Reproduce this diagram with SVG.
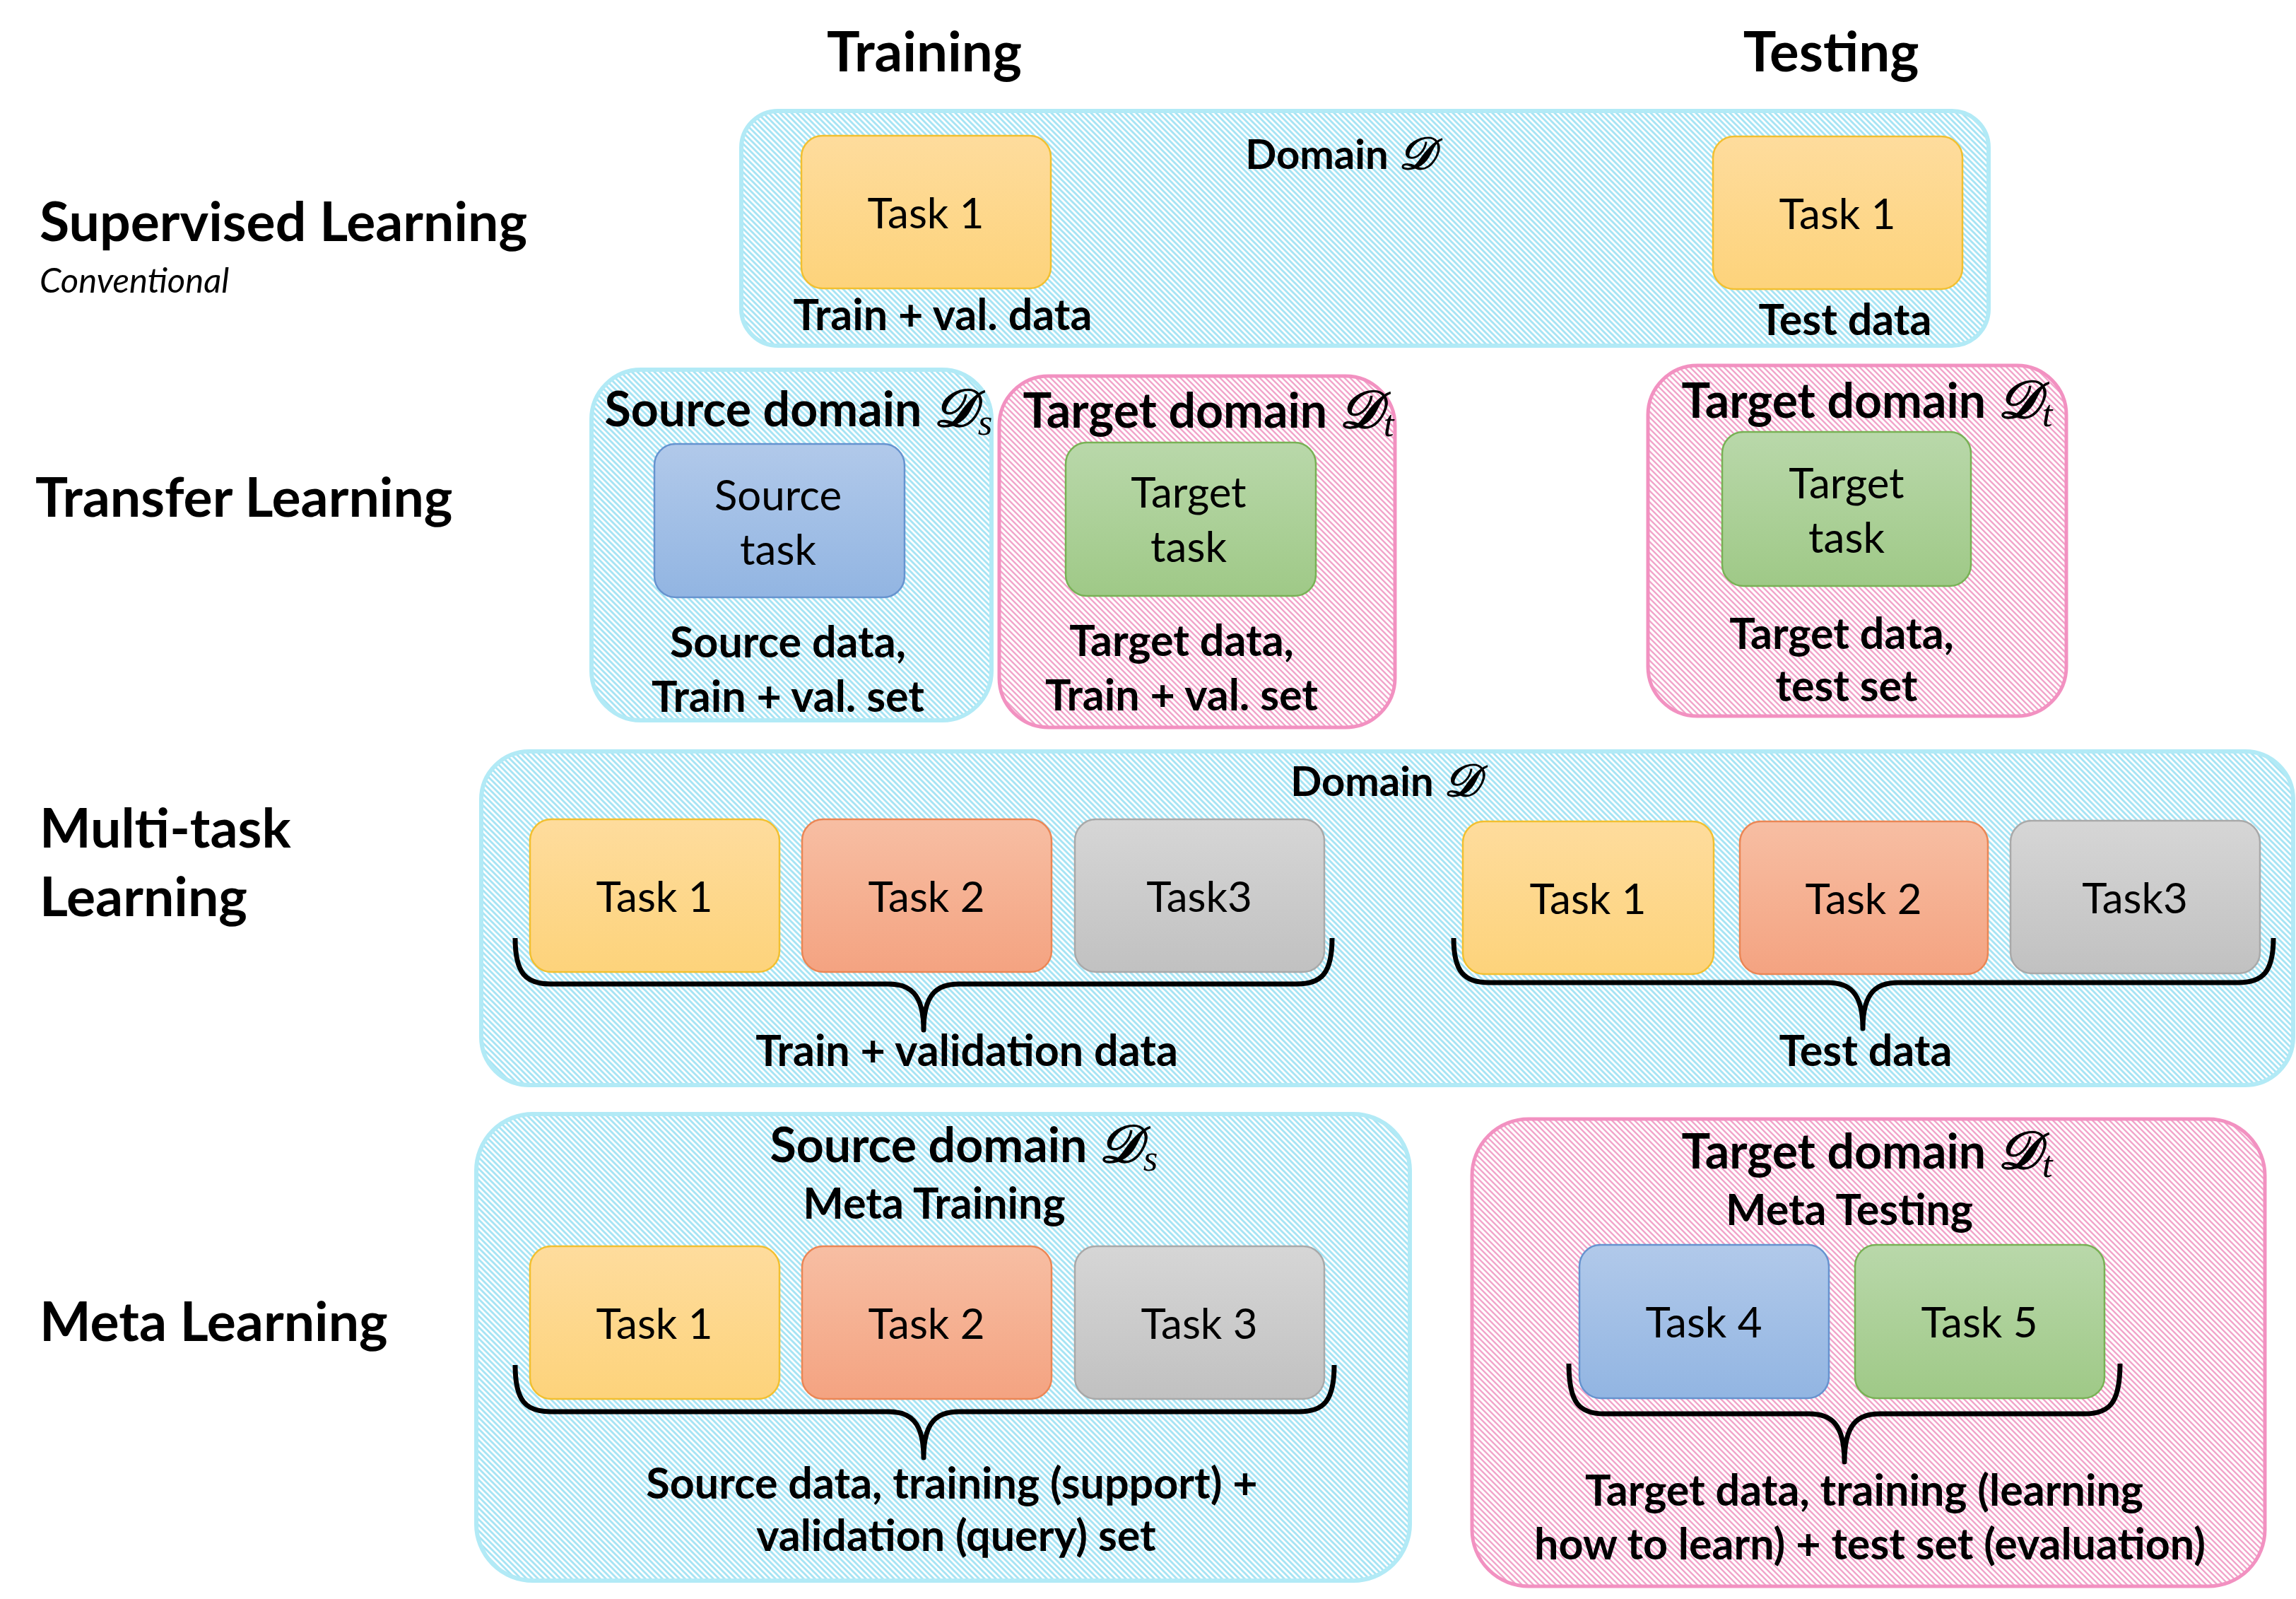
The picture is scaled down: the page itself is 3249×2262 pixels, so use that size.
<svg xmlns="http://www.w3.org/2000/svg" width="3249" height="2262" viewBox="0 0 3249 2262">
<defs>
<pattern id="hatchC" patternUnits="userSpaceOnUse" width="8" height="8">
<rect width="8" height="8" fill="#ffffff"/>
<path d="M-2,-2 L10,10 M6,-2 L10,2 M-2,6 L2,10" stroke="#a6e4f4" stroke-width="2.9"/>
</pattern>
<pattern id="hatchP" patternUnits="userSpaceOnUse" width="8" height="8">
<rect width="8" height="8" fill="#ffffff"/>
<path d="M-2,-2 L10,10 M6,-2 L10,2 M-2,6 L2,10" stroke="#f2a4ca" stroke-width="2.4"/>
</pattern>
<linearGradient id="gY" x1="0" y1="0" x2="0" y2="1"><stop offset="0" stop-color="#fedc9d"/><stop offset="1" stop-color="#fdd37b"/></linearGradient>
<linearGradient id="gO" x1="0" y1="0" x2="0" y2="1"><stop offset="0" stop-color="#f7bea3"/><stop offset="1" stop-color="#f4a381"/></linearGradient>
<linearGradient id="gG" x1="0" y1="0" x2="0" y2="1"><stop offset="0" stop-color="#d6d6d6"/><stop offset="1" stop-color="#c1c1c1"/></linearGradient>
<linearGradient id="gB" x1="0" y1="0" x2="0" y2="1"><stop offset="0" stop-color="#b1c9ea"/><stop offset="1" stop-color="#92b5e2"/></linearGradient>
<linearGradient id="gN" x1="0" y1="0" x2="0" y2="1"><stop offset="0" stop-color="#b9d8aa"/><stop offset="1" stop-color="#9fc987"/></linearGradient>
</defs>
<style>
text{font-family:Lato,"Open Sans","Liberation Sans",sans-serif;fill:#000}
.hdr{font-weight:bold;font-size:78px;text-anchor:middle}
.side{font-weight:bold;font-size:77px}
.conv{font-style:italic;font-size:49px}
.dt{font-weight:bold;font-size:61px;text-anchor:middle}
.ttl{font-weight:bold;font-size:68px;text-anchor:middle}
.dom{font-weight:bold;font-size:58px;text-anchor:middle}
.task{font-size:60px;text-anchor:middle}
.m{font-family:"DejaVu Serif","Liberation Serif",serif;font-style:italic;font-weight:bold;font-size:1.1em}
.sub{font-family:"Liberation Serif","DejaVu Serif",serif;font-style:italic;font-weight:normal;font-size:0.78em}
.cy{fill:url(#hatchC);stroke:#b2eaf6;stroke-width:6}
.pk{fill:url(#hatchP);stroke:#f291c1;stroke-width:5}
.t{stroke-width:2.5}
.y{fill:url(#gY);stroke:#f2c030}
.o{fill:url(#gO);stroke:#eb8655}
.g{fill:url(#gG);stroke:#a9a9a9}
.b{fill:url(#gB);stroke:#6693cf}
.n{fill:url(#gN);stroke:#78b255}
.brace{fill:none;stroke:#000;stroke-width:7;stroke-linejoin:round;stroke-linecap:butt}
</style>
<rect width="3249" height="2262" fill="#ffffff"/>

<g id="headers">
<text class="hdr" x="1308" y="101">Training</text>
<text class="hdr" x="2591" y="101">Testing</text>
</g>
<g id="row-labels">
<text class="side" x="56" y="341">Supervised Learning</text>
<text class="conv" x="56" y="414">Conventional</text>
<text class="side" x="50" y="731">Transfer Learning</text>
<text class="side" x="56" y="1199">Multi-task</text>
<text class="side" x="56" y="1296">Learning</text>
<text class="side" x="56" y="1897">Meta Learning</text>
</g>

<!-- Row 1: supervised -->
<g id="sup-domain">
<rect class="cy" x="1049" y="157" width="1765" height="332" rx="52"/>
<text class="dom" x="1896" y="239">Domain <tspan class="m">𝒟</tspan></text>
<text class="dt" x="1334" y="467">Train + val. data</text>
<text class="dt" x="2611" y="474">Test data</text>
</g>
<g id="sup-task1-train">
<rect class="t y" x="1134" y="192" width="353" height="216" rx="30"/>
<text class="task" x="1310" y="323">Task 1</text>
</g>
<g id="sup-task1-test">
<rect class="t y" x="2424" y="193" width="353" height="216" rx="30"/>
<text class="task" x="2600" y="324">Task 1</text>
</g>

<!-- Row 2: transfer -->
<g id="tl-source-domain">
<rect class="cy" x="837" y="523" width="566" height="496" rx="70"/>
<text class="ttl" x="1130" y="603">Source domain <tspan class="m">𝒟</tspan><tspan class="sub" dx="3" dy="12">s</tspan></text>
<text class="dt" x="1115" y="930">Source data,</text>
<text class="dt" x="1115" y="1007">Train + val. set</text>
</g>
<g id="tl-source-task">
<rect class="t b" x="926" y="628" width="354" height="217" rx="30"/>
<text class="task" x="1101" y="722">Source</text>
<text class="task" x="1101" y="799">task</text>
</g>
<g id="tl-target-domain-train">
<rect class="pk" x="1414" y="532" width="560" height="497" rx="70"/>
<text class="ttl" x="1710" y="605">Target domain <tspan class="m">𝒟</tspan><tspan class="sub" dx="3" dy="12">t</tspan></text>
<text class="dt" x="1672" y="928">Target data,</text>
<text class="dt" x="1672" y="1005">Train + val. set</text>
</g>
<g id="tl-target-task-train">
<rect class="t n" x="1508" y="626" width="354" height="217" rx="30"/>
<text class="task" x="1682" y="718">Target</text>
<text class="task" x="1682" y="795">task</text>
</g>
<g id="tl-target-domain-test">
<rect class="pk" x="2332" y="517" width="592" height="496" rx="70"/>
<text class="ttl" x="2642" y="591">Target domain <tspan class="m">𝒟</tspan><tspan class="sub" dx="3" dy="12">t</tspan></text>
<text class="dt" x="2606" y="918">Target data,</text>
<text class="dt" x="2613" y="992">test set</text>
</g>
<g id="tl-target-task-test">
<rect class="t n" x="2437" y="611" width="352" height="218" rx="30"/>
<text class="task" x="2613" y="705">Target</text>
<text class="task" x="2613" y="782">task</text>
</g>

<!-- Row 3: multi-task -->
<g id="mt-domain">
<rect class="cy" x="681" y="1063" width="2564" height="472" rx="68"/>
<text class="dom" x="1960" y="1126">Domain <tspan class="m">𝒟</tspan></text>
<text class="dt" x="1368" y="1508">Train + validation data</text>
<text class="dt" x="2640" y="1508">Test data</text>
</g>
<g id="mt-train-task1"><rect class="t y" x="750" y="1159" width="353" height="216" rx="30"/><text class="task" x="926" y="1290">Task 1</text></g>
<g id="mt-train-task2"><rect class="t o" x="1135" y="1159" width="353" height="216" rx="30"/><text class="task" x="1311" y="1290">Task 2</text></g>
<g id="mt-train-task3"><rect class="t g" x="1521" y="1159" width="353" height="216" rx="30"/><text class="task" x="1697" y="1290">Task3</text></g>
<g id="mt-test-task1"><rect class="t y" x="2070" y="1162" width="355" height="216" rx="30"/><text class="task" x="2247" y="1293">Task 1</text></g>
<g id="mt-test-task2"><rect class="t o" x="2462" y="1162" width="351" height="216" rx="30"/><text class="task" x="2637" y="1293">Task 2</text></g>
<g id="mt-test-task3"><rect class="t g" x="2845" y="1161" width="353" height="216" rx="30"/><text class="task" x="3021" y="1292">Task3</text></g>

<!-- Row 4: meta -->
<g id="ml-source-domain">
<rect class="cy" x="674" y="1576" width="1321" height="660" rx="80"/>
<text class="ttl" x="1364" y="1644">Source domain <tspan class="m">𝒟</tspan><tspan class="sub" dx="3" dy="12">s</tspan></text>
<text class="dt" x="1322" y="1724">Meta Training</text>
<text class="dt" x="1347" y="2120">Source data, training (support) +</text>
<text class="dt" x="1353" y="2194">validation (query) set</text>
</g>
<g id="ml-task1"><rect class="t y" x="750" y="1763" width="353" height="216" rx="30"/><text class="task" x="926" y="1894">Task 1</text></g>
<g id="ml-task2"><rect class="t o" x="1135" y="1763" width="353" height="216" rx="30"/><text class="task" x="1311" y="1894">Task 2</text></g>
<g id="ml-task3"><rect class="t g" x="1521" y="1763" width="353" height="216" rx="30"/><text class="task" x="1697" y="1894">Task 3</text></g>
<g id="ml-target-domain">
<rect class="pk" x="2083" y="1583" width="1122" height="661" rx="80"/>
<text class="ttl" x="2642" y="1653">Target domain <tspan class="m">𝒟</tspan><tspan class="sub" dx="3" dy="12">t</tspan></text>
<text class="dt" x="2617" y="1733">Meta Testing</text>
<text class="dt" x="2638" y="2130">Target data, training (learning</text>
<text class="dt" x="2646" y="2206">how to learn) + test set (evaluation)</text>
</g>
<g id="ml-task4"><rect class="t b" x="2235" y="1761" width="353" height="217" rx="30"/><text class="task" x="2411" y="1892">Task 4</text></g>
<g id="ml-task5"><rect class="t n" x="2625" y="1761" width="353" height="217" rx="30"/><text class="task" x="2801" y="1892">Task 5</text></g>

<g id="connectors">
<path class="brace" d="M729,1327 C729,1377 744,1392 779,1392 L1257,1392 C1287,1392 1307,1405 1307,1457 C1307,1405 1327,1392 1357,1392 L1835,1392 C1870,1392 1885,1377 1885,1327"/>
<path class="brace" d="M2057,1327 C2057,1375 2072,1390 2107,1390 L2586,1390 C2616,1390 2636,1403 2636,1455 C2636,1403 2656,1390 2686,1390 L3167,1390 C3202,1390 3217,1375 3217,1327"/>
<path class="brace" d="M729,1931 C729,1982 744,1997 779,1997 L1257,1997 C1287,1997 1307,2010 1307,2062 C1307,2010 1327,1997 1357,1997 L1838,1997 C1873,1997 1888,1982 1888,1931"/>
<path class="brace" d="M2220,1929 C2220,1985 2235,2000 2270,2000 L2560,2000 C2590,2000 2610,2013 2610,2068 C2610,2013 2630,2000 2660,2000 L2950,2000 C2985,2000 3000,1985 3000,1929"/>
</g>
</svg>
